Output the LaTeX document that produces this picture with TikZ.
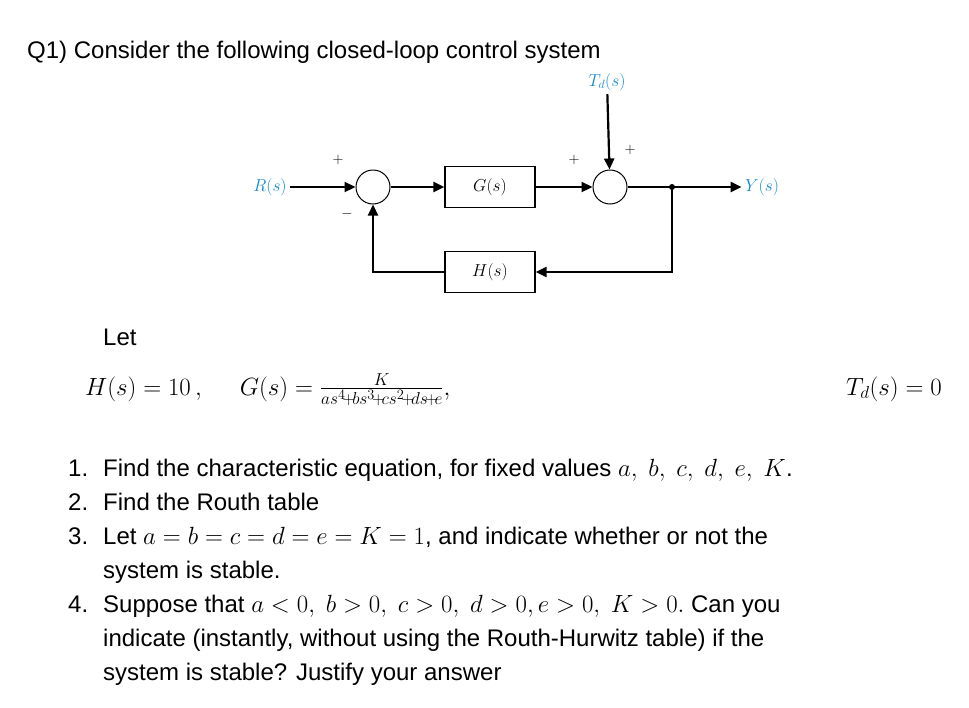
\documentclass[tikz,border=0pt]{standalone}
\usepackage{amsmath}
\usepackage{fontspec}
\setmainfont{Liberation Sans}
\usetikzlibrary{arrows.meta}
\begin{document}
\begin{tikzpicture}[x=1pt,y=-1pt,
  blk/.style={draw,line width=1.2pt,minimum width=90pt,minimum height=41pt,inner sep=0pt,font=\fontsize{17}{20}\selectfont},
  sum/.style={draw,circle,line width=1pt,minimum size=34pt,inner sep=0pt},
  sig/.style={line width=2.2pt,-{Triangle[length=11pt,width=10pt]}},
  lbl/.style={text=cyan!70!blue,font=\fontsize{17}{20}\selectfont},
  sgn/.style={font=\fontsize{15}{16}\selectfont},
  txt/.style={anchor=base west,inner sep=0pt,font=\fontsize{24}{28}\selectfont}]
\useasboundingbox (0,0) rectangle (969,707);
\node[txt] (title) at (27,58) {Q1) Consider the following closed-loop control system};
% diagram
\node[lbl] (R) at (270,187) {$R(s)$};
\node[sum] (s1) at (373,187) {};
\node[blk] (G) at (490,187) {$G(s)$};
\node[sum] (s2) at (610,187) {};
\coordinate (j) at (672,187);
\node[lbl] (Y) at (762,187) {$Y(s)$};
\node[blk] (H) at (490,272) {$H(s)$};
\node[lbl] (Td) at (607,82) {$T_d(s)$};
\draw[sig] (R) -- (s1);
\draw[sig] (s1) -- (G);
\draw[sig] (G) -- (s2);
\draw[sig] (s2) -- (Y);
\draw[sig] (Td) -- (s2);
\draw[sig] (j) |- (H);
\draw[sig] (H) -| (s1);
\fill (j) circle (3pt);
\node[sgn] (p1) at (338,160) {$+$};
\node[sgn] (m1) at (347,214) {$-$};
\node[sgn] (p2) at (574,160) {$+$};
\node[sgn] (p3) at (630,150) {$+$};
% text
\node[txt] (let) at (103,345) {Let};
\node[anchor=base west,inner sep=0pt,font=\fontsize{27}{30}\selectfont] (eq) at (85,395)
 {$H(s)=10\,,\quad\; G(s)=\frac{K}{as^4\!+\!bs^3\!+\!cs^2\!+\!ds\!+\!e},$};
\node[anchor=base east,inner sep=0pt,font=\fontsize{27}{30}\selectfont] (td) at (942,395) {$T_d(s)=0$};
\foreach \n/\y/\t in {1/476/{Find the characteristic equation, for fixed values $a,\ b,\ c,\ d,\ e,\ K$.},
  2/510/{Find the Routh table},
  3/544/{Let $a=b=c=d=e=K=1$, and indicate whether or not the}}
  {\node[txt] (n\n) at (68,\y) {\n.}; \node[txt] (t\n) at (103,\y) {\t};}
\node[txt] (t3b) at (103,578) {system is stable.};
\node[txt] (n4) at (68,612) {4.};
\node[txt] (t4) at (103,612) {Suppose that $a<0,\ b>0,\ c>0,\ d>0, e>0,\ K>0.$ Can you};
\node[txt] (t4b) at (103,646) {indicate (instantly, without using the Routh-Hurwitz table) if the};
\node[txt] (t4c) at (103,680) {system is stable? Justify your answer};
\end{tikzpicture}
\end{document}
